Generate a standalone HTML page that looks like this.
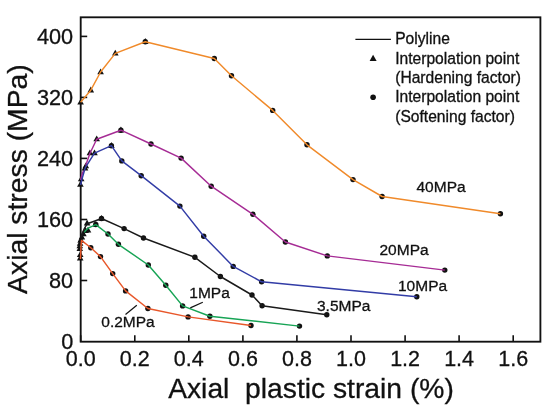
<!DOCTYPE html>
<html><head><meta charset="utf-8"><title>Axial stress vs axial plastic strain</title>
<style>html,body{margin:0;padding:0;background:#fff;}svg{display:block;}text{font-family:"Liberation Sans",Arial,sans-serif;fill:#111;stroke:#111;stroke-width:0.3px;}</style></head><body>
<svg width="550" height="411" viewBox="0 0 550 411">
<rect width="550" height="411" fill="#fff"/>
<rect x="80.7" y="17.3" width="459.7" height="324.4" fill="none" stroke="#111" stroke-width="1.85"/>
<line x1="80.7" y1="341.75" x2="80.7" y2="335.25" stroke="#111" stroke-width="1.6"/>
<text x="80.7" y="365.5" font-size="21.5" text-anchor="middle">0.0</text>
<line x1="134.8" y1="341.75" x2="134.8" y2="335.25" stroke="#111" stroke-width="1.6"/>
<text x="134.8" y="365.5" font-size="21.5" text-anchor="middle">0.2</text>
<line x1="188.8" y1="341.75" x2="188.8" y2="335.25" stroke="#111" stroke-width="1.6"/>
<text x="188.8" y="365.5" font-size="21.5" text-anchor="middle">0.4</text>
<line x1="242.9" y1="341.75" x2="242.9" y2="335.25" stroke="#111" stroke-width="1.6"/>
<text x="242.9" y="365.5" font-size="21.5" text-anchor="middle">0.6</text>
<line x1="296.9" y1="341.75" x2="296.9" y2="335.25" stroke="#111" stroke-width="1.6"/>
<text x="296.9" y="365.5" font-size="21.5" text-anchor="middle">0.8</text>
<line x1="351.0" y1="341.75" x2="351.0" y2="335.25" stroke="#111" stroke-width="1.6"/>
<text x="351.0" y="365.5" font-size="21.5" text-anchor="middle">1.0</text>
<line x1="405.1" y1="341.75" x2="405.1" y2="335.25" stroke="#111" stroke-width="1.6"/>
<text x="405.1" y="365.5" font-size="21.5" text-anchor="middle">1.2</text>
<line x1="459.1" y1="341.75" x2="459.1" y2="335.25" stroke="#111" stroke-width="1.6"/>
<text x="459.1" y="365.5" font-size="21.5" text-anchor="middle">1.4</text>
<line x1="513.2" y1="341.75" x2="513.2" y2="335.25" stroke="#111" stroke-width="1.6"/>
<text x="513.2" y="365.5" font-size="21.5" text-anchor="middle">1.6</text>
 <text x="73.2" y="348.9" font-size="21.7" text-anchor="end">0</text>
<line x1="80.7" y1="280.5" x2="87.2" y2="280.5" stroke="#111" stroke-width="1.6"/>
 <text x="73.2" y="287.9" font-size="21.7" text-anchor="end">80</text>
<line x1="80.7" y1="219.5" x2="87.2" y2="219.5" stroke="#111" stroke-width="1.6"/>
 <text x="73.2" y="226.9" font-size="21.7" text-anchor="end">160</text>
<line x1="80.7" y1="158.4" x2="87.2" y2="158.4" stroke="#111" stroke-width="1.6"/>
 <text x="73.2" y="165.8" font-size="21.7" text-anchor="end">240</text>
<line x1="80.7" y1="97.4" x2="87.2" y2="97.4" stroke="#111" stroke-width="1.6"/>
 <text x="73.2" y="104.8" font-size="21.7" text-anchor="end">320</text>
<line x1="80.7" y1="36.4" x2="87.2" y2="36.4" stroke="#111" stroke-width="1.6"/>
 <text x="73.2" y="43.8" font-size="21.7" text-anchor="end">400</text>
<path d="M80.6 98.7 L83.9 104.5 L77.3 104.5 Z" fill="#111"/>
<path d="M90.8 86.6 L94.1 92.4 L87.5 92.4 Z" fill="#111"/>
<path d="M100.6 68.4 L103.9 74.2 L97.3 74.2 Z" fill="#111"/>
<path d="M115.3 49.8 L118.6 55.6 L112.0 55.6 Z" fill="#111"/>
<path d="M145.3 38.1 L148.6 43.9 L142.0 43.9 Z" fill="#111"/>
<circle cx="145.3" cy="41.7" r="2.7" fill="#111"/>
<circle cx="214.3" cy="58.5" r="2.7" fill="#111"/>
<circle cx="231.5" cy="75.8" r="2.7" fill="#111"/>
<circle cx="272.7" cy="110.4" r="2.7" fill="#111"/>
<circle cx="307.0" cy="144.8" r="2.7" fill="#111"/>
<circle cx="353.0" cy="179.6" r="2.7" fill="#111"/>
<circle cx="382.1" cy="196.5" r="2.7" fill="#111"/>
<circle cx="500.4" cy="213.7" r="2.7" fill="#111"/>
<polyline points="80.6,102.3 90.8,90.2 100.6,72.0 115.3,53.4 145.3,41.7 214.3,58.5 231.5,75.8 272.7,110.4 307.0,144.8 353.0,179.6 382.1,196.5 500.4,213.7" fill="none" stroke="#F08A2A" stroke-width="1.45" stroke-linejoin="round"/>
<path d="M81.2 175.4 L84.5 181.2 L77.9 181.2 Z" fill="#111"/>
<path d="M85.8 162.4 L89.1 168.2 L82.5 168.2 Z" fill="#111"/>
<path d="M89.9 149.5 L93.2 155.3 L86.6 155.3 Z" fill="#111"/>
<path d="M96.7 135.4 L100.0 141.2 L93.4 141.2 Z" fill="#111"/>
<path d="M120.9 126.6 L124.2 132.4 L117.6 132.4 Z" fill="#111"/>
<circle cx="120.9" cy="130.2" r="2.7" fill="#111"/>
<circle cx="151.0" cy="144.0" r="2.7" fill="#111"/>
<circle cx="181.1" cy="158.1" r="2.7" fill="#111"/>
<circle cx="211.2" cy="186.2" r="2.7" fill="#111"/>
<circle cx="252.9" cy="214.3" r="2.7" fill="#111"/>
<circle cx="285.4" cy="242.0" r="2.7" fill="#111"/>
<circle cx="327.3" cy="255.9" r="2.7" fill="#111"/>
<circle cx="444.8" cy="270.1" r="2.7" fill="#111"/>
<polyline points="80.6,180.0 82.5,173.0 85.5,166.0 89.9,153.5 96.7,139.3 120.9,130.2 151.0,144.0 181.1,158.1 211.2,186.2 252.9,214.3 285.4,242.0 327.3,255.9 444.8,270.1" fill="none" stroke="#A62C95" stroke-width="1.45" stroke-linejoin="round"/>
<path d="M80.4 181.0 L83.7 186.8 L77.1 186.8 Z" fill="#111"/>
<path d="M85.0 164.6 L88.3 170.4 L81.7 170.4 Z" fill="#111"/>
<path d="M94.5 149.5 L97.8 155.3 L91.2 155.3 Z" fill="#111"/>
<path d="M111.4 142.1 L114.7 147.9 L108.1 147.9 Z" fill="#111"/>
<circle cx="111.4" cy="145.7" r="2.7" fill="#111"/>
<circle cx="121.8" cy="160.9" r="2.7" fill="#111"/>
<circle cx="141.2" cy="175.7" r="2.7" fill="#111"/>
<circle cx="179.9" cy="206.1" r="2.7" fill="#111"/>
<circle cx="203.7" cy="236.2" r="2.7" fill="#111"/>
<circle cx="233.2" cy="266.4" r="2.7" fill="#111"/>
<circle cx="261.6" cy="281.8" r="2.7" fill="#111"/>
<circle cx="416.8" cy="296.7" r="2.7" fill="#111"/>
<polyline points="80.6,185.0 82.0,179.0 85.3,167.6 94.5,153.1 111.4,145.7 121.8,160.9 141.2,175.7 179.9,206.1 203.7,236.2 233.2,266.4 261.6,281.8 416.8,296.7" fill="none" stroke="#323CA6" stroke-width="1.45" stroke-linejoin="round"/>
<path d="M79.8 245.2 L83.1 251.0 L76.5 251.0 Z" fill="#111"/>
<path d="M79.8 242.5 L83.1 248.3 L76.5 248.3 Z" fill="#111"/>
<path d="M85.6 227.1 L88.9 232.9 L82.3 232.9 Z" fill="#111"/>
<path d="M88.0 226.8 L91.3 232.6 L84.7 232.6 Z" fill="#111"/>
<path d="M95.8 220.9 L99.1 226.7 L92.5 226.7 Z" fill="#111"/>
<circle cx="95.8" cy="224.5" r="2.7" fill="#111"/>
<circle cx="108.0" cy="234.0" r="2.7" fill="#111"/>
<circle cx="118.4" cy="244.3" r="2.7" fill="#111"/>
<circle cx="148.3" cy="265.0" r="2.7" fill="#111"/>
<circle cx="165.8" cy="285.3" r="2.7" fill="#111"/>
<circle cx="182.6" cy="305.9" r="2.7" fill="#111"/>
<circle cx="209.9" cy="316.2" r="2.7" fill="#111"/>
<circle cx="299.5" cy="326.1" r="2.7" fill="#111"/>
<polyline points="80.6,247.0 81.3,240.5 82.7,235.4 85.4,230.7 88.7,227.8 95.8,224.7 108.0,234.0 118.4,244.3 148.3,265.0 165.8,285.3 182.6,305.9 209.9,316.2 299.5,326.1" fill="none" stroke="#17A455" stroke-width="1.45" stroke-linejoin="round"/>
<path d="M80.1 239.9 L83.4 245.7 L76.8 245.7 Z" fill="#111"/>
<path d="M80.8 236.8 L84.1 242.6 L77.5 242.6 Z" fill="#111"/>
<path d="M81.9 233.8 L85.2 239.6 L78.6 239.6 Z" fill="#111"/>
<path d="M83.4 230.5 L86.7 236.3 L80.1 236.3 Z" fill="#111"/>
<path d="M87.1 219.8 L90.4 225.6 L83.8 225.6 Z" fill="#111"/>
<path d="M101.5 214.9 L104.8 220.7 L98.2 220.7 Z" fill="#111"/>
<circle cx="101.5" cy="218.5" r="2.7" fill="#111"/>
<circle cx="124.1" cy="228.6" r="2.7" fill="#111"/>
<circle cx="143.5" cy="238.0" r="2.7" fill="#111"/>
<circle cx="194.9" cy="257.3" r="2.7" fill="#111"/>
<circle cx="220.4" cy="276.5" r="2.7" fill="#111"/>
<circle cx="252.0" cy="295.0" r="2.7" fill="#111"/>
<circle cx="262.1" cy="305.7" r="2.7" fill="#111"/>
<circle cx="326.8" cy="314.7" r="2.7" fill="#111"/>
<polyline points="80.4,243.0 80.8,238.8 82.2,233.4 84.6,228.1 87.1,223.8 94.2,221.2 101.5,218.5 124.1,228.6 143.5,238.0 194.9,257.3 220.4,276.5 252.0,295.0 262.1,305.7 326.8,314.7" fill="none" stroke="#1a1a1a" stroke-width="1.45" stroke-linejoin="round"/>
<path d="M80.2 254.6 L83.5 260.4 L76.9 260.4 Z" fill="#111"/>
<path d="M80.2 251.2 L83.5 257.0 L76.9 257.0 Z" fill="#111"/>
<path d="M80.9 236.8 L84.2 242.6 L77.6 242.6 Z" fill="#111"/>
<circle cx="90.8" cy="247.8" r="2.7" fill="#111"/>
<circle cx="100.5" cy="256.6" r="2.7" fill="#111"/>
<circle cx="112.7" cy="273.6" r="2.7" fill="#111"/>
<circle cx="125.6" cy="290.9" r="2.7" fill="#111"/>
<circle cx="147.9" cy="308.5" r="2.7" fill="#111"/>
<circle cx="188.1" cy="316.9" r="2.7" fill="#111"/>
<circle cx="251.0" cy="325.5" r="2.7" fill="#111"/>
<polyline points="80.5,259.0 81.0,246.5 81.5,240.4 90.8,247.8 100.5,256.6 112.7,273.6 125.6,290.9 147.9,308.5 188.1,316.9 251.0,325.5" fill="none" stroke="#E8572A" stroke-width="1.45" stroke-linejoin="round"/>
<text x="311.0" y="397.5" font-size="28.25" text-anchor="middle" xml:space="preserve" style="white-space:pre">Axial  plastic strain (%)</text>
<text transform="translate(27.4,179.1) rotate(-90)" font-size="28.3" text-anchor="middle">Axial stress (MPa)</text>
<line x1="355.4" y1="39.4" x2="390.9" y2="39.4" stroke="#111" stroke-width="1.3"/>
<path d="M373.1 54.7 L376.6 61 L369.6 61 Z" fill="#111"/>
<circle cx="373.1" cy="97.3" r="2.8" fill="#111"/>
<text x="395.2" y="44.2" font-size="15.62">Polyline</text>
<text x="395.2" y="63.6" font-size="15.62">Interpolation point</text>
<text x="395.2" y="83.0" font-size="15.62">(Hardening factor)</text>
<text x="395.2" y="102.4" font-size="15.62">Interpolation point</text>
<text x="395.2" y="121.8" font-size="15.62">(Softening factor)</text>
<text x="416.5" y="192" font-size="15.5">40MPa</text>
<text x="379.5" y="254.5" font-size="15.5">20MPa</text>
<text x="398" y="290.5" font-size="15.5">10MPa</text>
<text x="317" y="310.5" font-size="15.5">3.5MPa</text>
<text x="189.3" y="298.2" font-size="15.5">1MPa</text>
<text x="101.3" y="326.7" font-size="15.5">0.2MPa</text>
<line x1="190.3" y1="307.9" x2="202.8" y2="302.2" stroke="#111" stroke-width="1.2"/>
<line x1="125.5" y1="314.5" x2="136.8" y2="305.3" stroke="#111" stroke-width="1.2"/>
</svg></body></html>
